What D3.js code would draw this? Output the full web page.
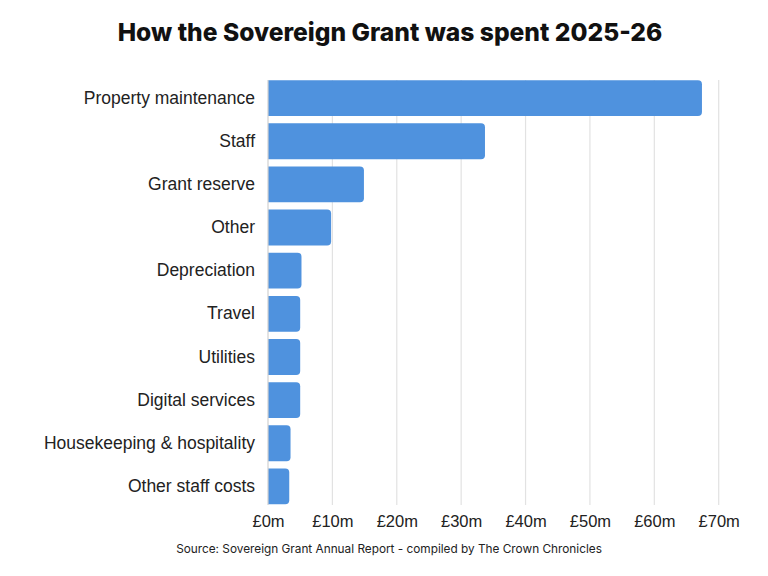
<!DOCTYPE html>
<html>
<head>
<meta charset="utf-8">
<script src="https://cdn.jsdelivr.net/npm/d3@7"></script>
<style>
  body { margin: 0; background: #fff; }
  svg { font-family: "Inter", "Noto Sans", sans-serif; }
</style>
</head>
<body>
<svg id="chart" width="768" height="576"></svg>
<script>
var categories = ["Property maintenance", "Staff", "Grant reserve", "Other", "Depreciation",
  "Travel", "Utilities", "Digital services", "Housekeeping & hospitality", "Other staff costs"];
var spend = [67.4, 33.7, 14.9, 9.8, 5.2, 5.0, 5.0, 5.0, 3.5, 3.3];
var tickValues = [0, 10, 20, 30, 40, 50, 60, 70];

var data = categories.map(function(c, i) { return {name: c, value: spend[i]}; });

var svg = d3.select("#chart");
var plotLeft = 268, plotRight = 718.7, plotTop = 76.5, plotBottom = 508;

var x = d3.scaleLinear().domain([0, 70]).range([plotLeft, plotRight]);
var y = d3.scaleBand().domain(categories).range([plotTop, plotBottom]).paddingInner(0.17).paddingOuter(0.085);

svg.append("text")
  .attr("x", 390).attr("y", 41)
  .attr("text-anchor", "middle")
  .style("font-size", "24.6px").style("font-weight", "800")
  .style("fill", "#111")
  .text("How the Sovereign Grant was spent 2025-26");

// gridlines
svg.append("g").selectAll("line")
  .data(tickValues.slice(1))
  .enter().append("line")
  .attr("x1", function(d) { return x(d); })
  .attr("x2", function(d) { return x(d); })
  .attr("y1", 80).attr("y2", 505)
  .attr("stroke", "#e2e2e2").attr("stroke-width", 1.2);

var xAxis = d3.axisBottom(x).tickValues(tickValues)
  .tickFormat(function(d) { return "£" + d + "m"; })
  .tickSize(0).tickPadding(10);

var gx = svg.append("g")
  .attr("transform", "translate(0,505)")
  .call(xAxis);
gx.select(".domain").remove();
gx.selectAll("text").style("font-size", "16.5px").style("fill", "#222");

function barPath(d) {
  var x0 = x(0), x1 = x(d.value), y0 = y(d.name), h = y.bandwidth(), r = 4;
  return "M" + x0 + "," + y0 +
    "H" + (x1 - r) +
    "Q" + x1 + "," + y0 + " " + x1 + "," + (y0 + r) +
    "V" + (y0 + h - r) +
    "Q" + x1 + "," + (y0 + h) + " " + (x1 - r) + "," + (y0 + h) +
    "H" + x0 + "Z";
}

svg.append("g").selectAll(".bar")
  .data(data)
  .enter().append("path")
  .attr("class", "bar")
  .attr("d", barPath)
  .attr("fill", "#4f92de");

// zero line
svg.append("line")
  .attr("x1", x(0)).attr("x2", x(0))
  .attr("y1", 80).attr("y2", 505)
  .attr("stroke", "#d0d0d0").attr("stroke-width", 1.2);

var yAxis = d3.axisLeft(y).tickSize(0).tickPadding(13);
var gy = svg.append("g")
  .attr("transform", "translate(" + plotLeft + ",0)")
  .call(yAxis);
gy.select(".domain").remove();
gy.selectAll("text").style("font-size", "17.5px").style("fill", "#222");

svg.append("text")
  .attr("x", 389).attr("y", 553)
  .attr("text-anchor", "middle")
  .style("font-size", "11.8px").style("fill", "#222")
  .text("Source: Sovereign Grant Annual Report - compiled by The Crown Chronicles");
</script>
</body>
</html>
